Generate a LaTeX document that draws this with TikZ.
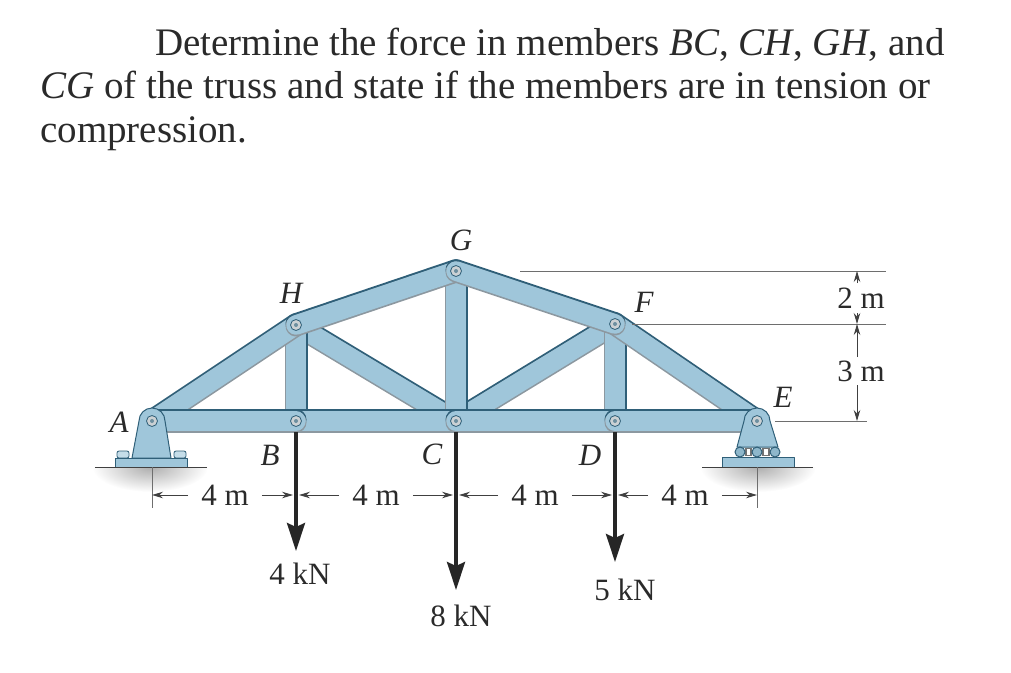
\documentclass[tikz,border=0pt]{standalone}
\usepackage{fontspec}
\setmainfont{Liberation Serif}
\usetikzlibrary{arrows.meta}
\definecolor{trussblue}{HTML}{9FC6DA}
\definecolor{trussdark}{HTML}{2F5F78}
\definecolor{trussgrey}{HTML}{8C98A0}
\definecolor{dimgrey}{HTML}{6E6E6E}
\definecolor{textgrey}{HTML}{2A2A2A}
\newcommand{\member}[3][]{%
    \draw[memberbar,trussdark,transform canvas={yshift=1.3pt},#1] (#2) -- (#3);
    \draw[memberbar,trussgrey,transform canvas={yshift=-1pt},#1] (#2) -- (#3);
    \draw[memberbar,trussblue,line width=19.5pt,#1] (#2) -- (#3);}
\newcommand{\memberv}[2]{%
    \draw[memberbar,trussdark,transform canvas={xshift=1pt}] (#1) -- (#2);
    \draw[memberbar,trussgrey,transform canvas={xshift=-1pt}] (#1) -- (#2);
    \draw[memberbar,trussblue,line width=19.5pt] (#1) -- (#2);}
\begin{document}
\begin{tikzpicture}[
    x=1pt,y=-1pt,
    memberbar/.style={line width=21pt},
    rounded/.style={line cap=round},
    trusspin/.style={circle,draw=trussdark,fill=trussgrey!45,line width=.8pt,
        minimum size=11pt,inner sep=0pt},
    support/.style={draw=trussdark,fill=trussblue,line width=1pt,line join=round},
    roller/.style={circle,draw=trussdark,fill=trussblue!85!trussdark,line width=1pt,
        minimum size=10pt,inner sep=0pt},
    bolt/.style={draw=trussdark,fill=trussblue!60,line width=.8pt},
    spacer/.style={fill=black!55},
    ground/.style={line width=1pt,draw=black!75},
    load/.style={line width=3.6pt,black!85,-{Stealth[length=28pt,width=18pt,inset=4pt]}},
    dimline/.style={line width=.9pt,dimgrey},
    dimarrow/.style={line width=.9pt,black!75,-{Stealth[length=11pt,width=6.5pt]}},
    every node/.style={text=textgrey},
    joint/.style={font=\fontsize{31}{34}\selectfont\itshape,inner sep=0pt},
    dimtext/.style={font=\fontsize{31}{34}\selectfont,inner sep=13pt},
    dimtextv/.style={font=\fontsize{31}{34}\selectfont,inner sep=0pt},
    question/.style={font=\fontsize{39}{43}\selectfont,anchor=base west,inner sep=0pt}]
    \useasboundingbox (0,0) rectangle (1011,672);

    % question
    \node[question] (line1) at (155,55) {Determine the force in members \textit{BC}, \textit{CH}, \textit{GH}, and};
    \node[question] (line2) at (40,98) {\textit{CG} of the truss and state if the members are in tension or};
    \node[question] (line3) at (40,142) {compression.};

    % joints
    \coordinate (A) at (152,421);
    \coordinate (B) at (296,421);
    \coordinate (C) at (456,421);
    \coordinate (D) at (615,421);
    \coordinate (E) at (757,421);
    \coordinate (H) at (296,325);
    \coordinate (G) at (456,271);
    \coordinate (F) at (615,324);

    % ground shadows
    \begin{scope}
        \clip (90,467) rectangle (830,500);
        \shade[inner color=black!32,outer color=white] (150,467) ellipse [x radius=58,y radius=25];
        \shade[inner color=black!32,outer color=white] (758,467) ellipse [x radius=58,y radius=25];
    \end{scope}

    % truss
    \member{H}{C}
    \member{C}{F}
    \memberv{H}{B}
    \memberv{G}{C}
    \memberv{F}{D}
    \member[rounded]{A}{H}
    \member[rounded]{F}{E}
    \member[rounded]{H}{G}
    \member[rounded]{G}{F}
    \member[rounded]{B}{C}
    \member[rounded]{C}{D}
    \member[rounded]{A}{B}
    \member[rounded]{D}{E}

    % supports
    \draw[bolt,rounded corners=2pt] (117,451) rectangle (129,458);
    \draw[bolt,rounded corners=2pt] (174,451) rectangle (186,458);
    \draw[support] (132,458) -- (139,421) arc[start angle=180,end angle=360,radius=13] -- (171,458) -- cycle;
    \draw[support] (115,458) rectangle (187,467);
    \draw[support] (737,447) -- (744,421) arc[start angle=180,end angle=360,radius=13] -- (778,447) -- cycle;
    \fill[spacer] (745,448) rectangle (752,456);
    \fill[spacer] (762,448) rectangle (770,456);
    \fill[white] (747,449) rectangle (750,455);
    \fill[white] (764,449) rectangle (768,455);
    \node[roller] (r1) at (740,452) {};
    \node[roller] (r2) at (757,452) {};
    \node[roller] (r3) at (775,452) {};
    \draw[support] (722,457) rectangle (794,467);
    \coordinate (ga1) at (95,467);
    \coordinate (ga2) at (207,467);
    \coordinate (ge1) at (702,467);
    \coordinate (ge2) at (813,467);
    \draw[ground] (ga1) -- (ga2);
    \draw[ground] (ge1) -- (ge2);

    % pins
    \foreach \j in {A,B,C,D,E,F,G,H}{
        \node[trusspin] (pin\j) at (\j) {};
        \fill[trussdark!70] (pin\j.center) circle (2);
    }

    % joint labels
    \node[joint] (lblA) at (119,422) {A};
    \node[joint] (lblB) at (270,455) {B};
    \node[joint] (lblC) at (432,454) {C};
    \node[joint] (lblD) at (590,455) {D};
    \node[joint] (lblE) at (783,397) {E};
    \node[joint] (lblF) at (644,302) {F};
    \node[joint] (lblG) at (461,240) {G};
    \node[joint] (lblH) at (291,293) {H};

    % loads
    \coordinate (tipB) at (296,551);
    \coordinate (tipC) at (456,590);
    \coordinate (tipD) at (615,562);
    \draw[load] (B) ++(0,11) -- (tipB);
    \draw[load] (C) ++(0,11) -- (tipC);
    \draw[load] (D) ++(0,11) -- (tipD);
    \node[dimtextv] (loadB) at (300,574) {4 kN};
    \node[dimtextv] (loadC) at (461,616) {8 kN};
    \node[dimtextv] (loadD) at (625,590) {5 kN};

    % horizontal dimensions
    \coordinate (extA) at (152,508);
    \coordinate (extE) at (757,508);
    \coordinate (baseA) at (152,467);
    \coordinate (baseE) at (757,467);
    \draw[dimline] (baseA) -- (extA);
    \draw[dimline] (baseE) -- (extE);
    \coordinate (dimA) at (152,495);
    \coordinate (dimBl) at (293,495);
    \coordinate (dimBr) at (299,495);
    \coordinate (dimCl) at (453,495);
    \coordinate (dimCr) at (459,495);
    \coordinate (dimDl) at (612,495);
    \coordinate (dimDr) at (618,495);
    \coordinate (dimE) at (757,495);
    \node[dimtext] (dimAB) at (225,495) {4 m};
    \node[dimtext] (dimBC) at (376,495) {4 m};
    \node[dimtext] (dimCD) at (535,495) {4 m};
    \node[dimtext] (dimDE) at (685,495) {4 m};
    \draw[dimarrow] (dimAB) -- (dimA);
    \draw[dimarrow] (dimAB) -- (dimBl);
    \draw[dimarrow] (dimBC) -- (dimBr);
    \draw[dimarrow] (dimBC) -- (dimCl);
    \draw[dimarrow] (dimCD) -- (dimCr);
    \draw[dimarrow] (dimCD) -- (dimDl);
    \draw[dimarrow] (dimDE) -- (dimDr);
    \draw[dimarrow] (dimDE) -- (dimE);

    % vertical dimensions
    \coordinate (topL) at (520,271);
    \coordinate (topR) at (886,271);
    \coordinate (midL) at (632,324);
    \coordinate (midR) at (886,324);
    \coordinate (lowL) at (775,421);
    \coordinate (lowR) at (867,421);
    \draw[dimline] (topL) -- (topR);
    \draw[dimline] (midL) -- (midR);
    \draw[dimline] (lowL) -- (lowR);
    \coordinate (vtop) at (857,271);
    \coordinate (vmid) at (857,324);
    \coordinate (vlow) at (857,421);
    \node[dimtextv] (dim2m) at (861,298) {2 m};
    \node[dimtextv] (dim3m) at (861,371) {3 m};
    \coordinate (s2up) at (857,283);
    \coordinate (s2dn) at (857,313);
    \coordinate (s3up) at (857,357);
    \coordinate (s3dn) at (857,385);
    \draw[dimarrow] (s2up) -- (vtop);
    \draw[dimarrow] (s2dn) -- (vmid);
    \draw[dimarrow] (s3up) -- (vmid);
    \draw[dimarrow] (s3dn) -- (vlow);
\end{tikzpicture}
\end{document}
